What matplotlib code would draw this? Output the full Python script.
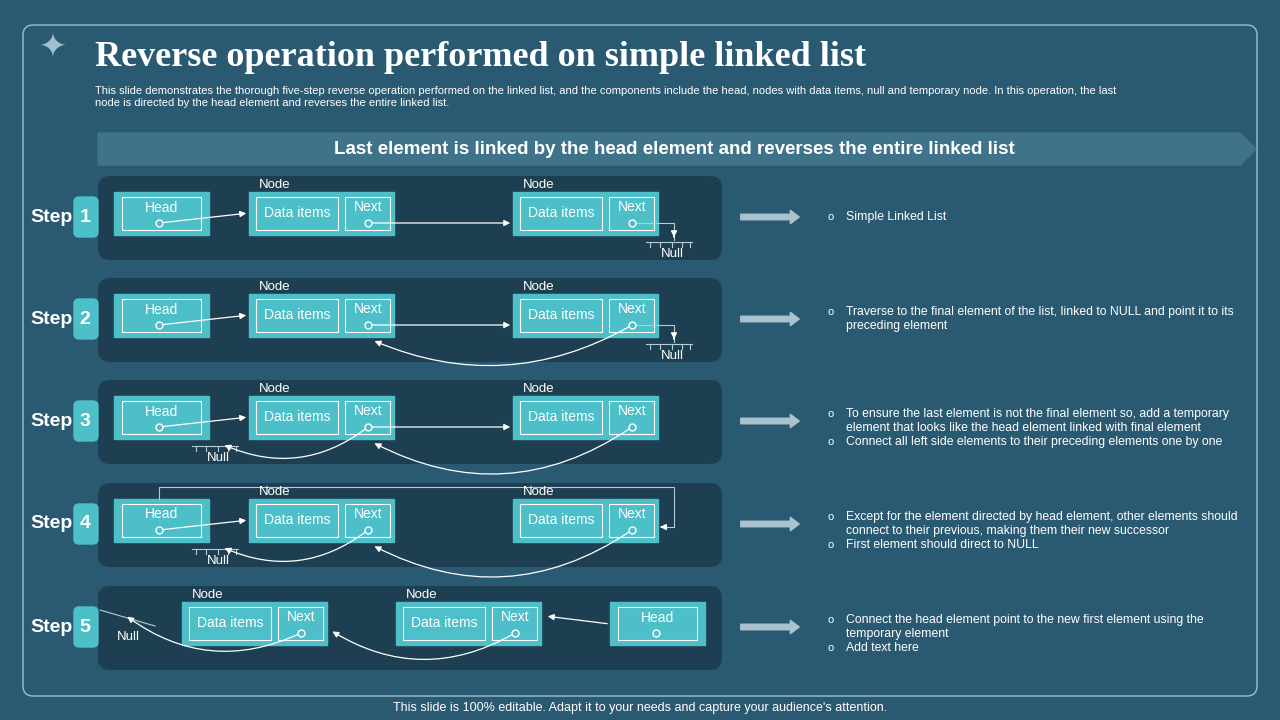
import matplotlib
matplotlib.use("Agg")
import matplotlib.pyplot as plt
from matplotlib.patches import Rectangle, FancyArrowPatch, Polygon, FancyBboxPatch

plt.rcParams["font.family"] = "Liberation Sans"

title = "Reverse operation performed on simple linked list"
subtitle = ("This slide demonstrates the thorough five-step reverse operation performed on the linked list, and the components include the head, nodes with data items, null and temporary node. In this operation, the last\n"
            "node is directed by the head element and reverses the entire linked list.")
banner = "Last element is linked by the head element and reverses the entire linked list"
footer = "This slide is 100% editable. Adapt it to your needs and capture your audience's attention."
steps = ["1", "2", "3", "4", "5"]
descriptions = [
    ["Simple Linked List"],
    ["Traverse to the final element of the list, linked to NULL and point it to its\npreceding element"],
    ["To ensure the last element is not the final element so, add a temporary\nelement that looks like the head element linked with final element",
     "Connect all left side elements to their preceding elements one by one"],
    ["Except for the element directed by head element, other elements should\nconnect to their previous, making them their new successor",
     "First element should direct to NULL"],
    ["Connect the head element point to the new first element using the\ntemporary element", "Add text here"],
]
row_centers = [217, 319, 421, 524, 627]

BG = "#2A5A72"; PANEL = "#1D3F51"; NODE = "#4CBFC8"; WHITE = "white"

fig = plt.figure(figsize=(12.8, 7.2), dpi=100)
fig.patch.set_facecolor(BG)
ax = fig.add_axes([0, 0, 1, 1])
ax.set_xlim(0, 1280); ax.set_ylim(720, 0); ax.axis("off")

ax.add_patch(FancyBboxPatch((23, 25), 1234, 671, boxstyle="round,pad=0,rounding_size=10", fill=False, ec="#9FC0CC", lw=1))
ax.text(53, 48, "\u2726", color="#9FBFCC", fontsize=24, ha="center", va="center", family="DejaVu Sans")
ax.text(95, 57, title, color=WHITE, fontsize=26, fontweight="bold", family="Liberation Serif", va="center")
ax.text(95, 97, subtitle, color=WHITE, fontsize=8, va="center", linespacing=1.3)
ax.add_patch(Polygon([[98, 133], [1240, 133], [1256, 149], [1240, 165], [98, 165]], color="#3E7389"))
ax.text(674, 149, banner, color=WHITE, fontsize=13.5, fontweight="bold", ha="center", va="center")
ax.text(640, 708, footer, color=WHITE, fontsize=9, ha="center", va="center")

def box(x, y, w, h, label=None):
    ax.add_patch(Rectangle((x, y), w, h, color=NODE))
    if label:
        ax.add_patch(Rectangle((x + 8, y + 5), w - 16, h - 10, fill=False, ec=WHITE, lw=0.8))
        ax.text(x + w / 2, y + h / 2 - 6, label, color=WHITE, fontsize=10, ha="center", va="center")

def node(x, y):
    ax.add_patch(Rectangle((x, y), 145, 43, color=NODE))
    ax.add_patch(Rectangle((x + 7, y + 5), 82, 33, fill=False, ec=WHITE, lw=0.8))
    ax.add_patch(Rectangle((x + 96, y + 5), 45, 33, fill=False, ec=WHITE, lw=0.8))
    ax.text(x + 48, y + 21, "Data items", color=WHITE, fontsize=10, ha="center", va="center")
    ax.text(x + 119, y + 15, "Next", color=WHITE, fontsize=10, ha="center", va="center")
    ax.text(x + 26, y - 7, "Node", color=WHITE, fontsize=9.5, ha="center", va="center")
    ax.plot(x + 119, y + 31, "o", mfc=NODE, mec=WHITE, ms=5, zorder=5)
    return (x + 119, y + 31)

def arrow(p, q, rad=0.0):
    ax.add_patch(FancyArrowPatch(p, q, connectionstyle=f"arc3,rad={rad}", arrowstyle="-|>",
                                 mutation_scale=9, color=WHITE, lw=0.9, zorder=4))

def null(x, y):
    ax.plot([x - 26, x + 20], [y, y], color="#B8CCD5", lw=0.8)
    for dx in (-22, -12, 0, 10, 18):
        ax.plot([x + dx, x + dx], [y, y + 5], color="#B8CCD5", lw=0.8)
    ax.text(x, y + 12, "Null", color=WHITE, fontsize=9.5, ha="center", va="center")

for i, c in enumerate(row_centers):
    ax.add_patch(FancyBboxPatch((98, c - 41), 624, 84, boxstyle="round,pad=0,rounding_size=12", color=PANEL, lw=0))
    ax.text(73, c, "Step", color=WHITE, fontsize=14, fontweight="bold", va="center", ha="right")
    ax.add_patch(FancyBboxPatch((74, c - 20), 24, 40, boxstyle="round,pad=0,rounding_size=5", color=NODE))
    ax.text(85, c, steps[i], color=WHITE, fontsize=14, fontweight="bold", ha="center", va="center")
    ax.add_patch(FancyArrowPatch((738, c), (802, c), arrowstyle="simple,head_width=1.2,head_length=0.8,tail_width=0.5",
                                 mutation_scale=8, color="#A9C3CF"))
    dy = c - 7 if sum(d.count("\n") + 1 for d in descriptions[i]) > 1 else c
    lines = 0
    for d in descriptions[i]:
        ax.text(828, dy + lines * 14, "o", color=WHITE, fontsize=8, va="center")
        ax.text(846, dy + lines * 14 + d.count("\n") * 7, d, color=WHITE, fontsize=8.8, va="center", linespacing=1.2)
        lines += d.count("\n") + 1
    ytop = c - 25
    if i < 4:
        box(114, ytop, 95, 43, "Head")
        hp = (159, ytop + 31)
        ax.plot(*hp, "o", mfc=NODE, mec=WHITE, ms=5, zorder=5)
        n1 = node(249, ytop); n2 = node(513, ytop)
        arrow(hp, (249, ytop + 21))
        if i < 3:
            arrow(n1, (513, n1[1]))
        if i < 2:
            ax.plot([n2[0], 674, 674], [n2[1], n2[1], ytop + 48], color="#B8CCD5", lw=0.8)
            arrow((674, ytop + 42), (674, ytop + 48))
            null(672, ytop + 50)
        if i >= 1:
            arrow(n2, (372, ytop + 46), rad=-0.25 if i == 1 else -0.3)
        if i >= 2:
            arrow(n1, (222, ytop + 48), rad=-0.3)
            null(218, ytop + 50)
        if i == 3:
            ax.plot([159, 159, 674, 674, 662], [ytop, ytop - 12, ytop - 12, ytop + 28, ytop + 28], color="#B8CCD5", lw=0.8)
            arrow((665, ytop + 28), (660, ytop + 28))
    else:
        n1 = node(182, ytop); n2 = node(396, ytop)
        box(610, ytop, 95, 43, "Head")
        hp = (656, ytop + 31)
        ax.plot(*hp, "o", mfc=NODE, mec=WHITE, ms=5, zorder=5)
        arrow((610, ytop + 22), (545, ytop + 14))
        arrow(n2, (330, ytop + 28), rad=-0.3)
        arrow(n1, (125, ytop + 13), rad=-0.3)
        ax.plot([100, 155], [ytop + 8, ytop + 24], color="#B8CCD5", lw=0.8)
        ax.text(128, ytop + 35, "Null", color=WHITE, fontsize=9.5, ha="center", va="center")

fig.savefig("out.png", dpi=100, facecolor=BG)
